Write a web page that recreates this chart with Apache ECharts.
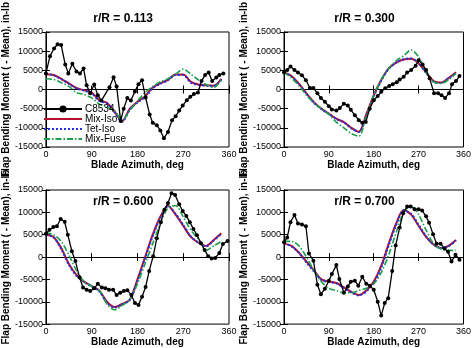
<!DOCTYPE html>
<html><head><meta charset="utf-8">
<script src="https://cdn.jsdelivr.net/npm/echarts@6/dist/echarts.min.js"></script>
<style>html,body{margin:0;padding:0;background:#fff}#c{width:474px;height:348px}</style>
</head><body><div id="c"></div>
<script>
// ---- data ----
const titles = ["r/R = 0.113", "r/R = 0.300", "r/R = 0.600", "r/R = 0.700"];
const seriesNames = ["C8534", "Mix-Iso", "Tet-Iso", "Mix-Fuse"];
const xTicks = [0, 90, 180, 270, 360];
const yTicks = [-15000, -10000, -5000, 0, 5000, 10000, 15000];
const azSim = [0,15,30,45,60,75,90,105,120,135,150,165,180,195,210,225,240,255,270,285,300,315,330,345];

// r/R = 0.113
const azExp113 = [0,8,16,23,30,38,44,52,60,67,74,80,87,95,102,109,125,133,139,147,153,160,167,175,182,189,196,204,210,218,225,232,240,248,255,262,269,277,284,291,299,306,313,320,327,335,341,349];
const exp113 = [4.2,8.7,10.7,11.8,11.6,6.5,4.2,6.7,4.7,4.2,5.5,1.1,-1.0,1.3,-1.5,-2.9,0.6,3.2,0.8,-8.2,-5.0,-2.2,-2.9,-0.5,1.4,2.4,-2.1,-6.5,-8.7,-9.3,-10.7,-12.7,-11.1,-8.0,-7.0,-5.5,-4.2,-2.8,-1.9,-1.2,-0.8,2.2,3.8,4.4,2.2,3.1,3.8,4.2];
const iso113 = [4.0,3.8,2.8,1.6,0.4,-0.2,-0.8,-2.8,-3.5,-5.8,-8.3,-5.0,-3.2,-1.8,0.5,1.6,2.5,3.9,3.9,2.0,1.3,1.1,1.0,2.8];
const tet113 = [4.1,3.7,2.7,1.5,0.3,-0.3,-1.0,-3.0,-3.6,-6.0,-8.4,-5.2,-3.4,-2.0,0.3,1.5,2.4,3.8,3.8,1.8,1.2,1.0,0.9,2.6];
const fuse113 = [2.8,2.6,1.8,0.8,-0.8,-1.3,-2.2,-3.8,-4.6,-5.5,-8.0,-5.5,-3.0,-0.8,0.8,2.0,2.8,4.0,5.3,4.0,2.5,1.3,0.5,2.5];

// r/R = 0.300
const azExp300 = [0,6.5,13,21,28,36,44,52,59,67,74,82,90,96,105,112,120,128,134,142,150,157,164,172,180,188,195,203,211,218,226,232,240,247,255,264,270,278,285,292,301,309,316,323,331,337,345,352];
const exp300 = [4.5,5.1,6.0,5.1,4.4,3.7,2.4,0.4,0.4,-1.0,-2.2,-3.2,-4.4,-5.2,-5.5,-4.8,-3.7,-4.2,-5.3,-6.7,-8.0,-8.7,-8.5,-5.0,-2.8,-1.7,-0.6,0.3,0.9,1.4,1.9,2.6,3.3,4.4,5.1,6.2,7.6,6.5,5.1,2.9,-1.0,-1.0,-1.5,-2.2,-1.0,1.4,2.2,3.5];
const iso300 = [4.5,3.5,1.5,-1.0,-3.3,-5.0,-6.3,-7.6,-8.5,-10.0,-11.0,-6.5,-1.5,2.5,5.5,7.0,7.8,8.0,6.8,4.5,2.2,1.8,3.0,4.5];
const tet300 = [4.5,3.4,1.4,-1.1,-3.5,-5.1,-6.4,-7.7,-8.6,-10.1,-11.1,-6.8,-1.8,2.3,5.4,7.0,7.9,8.1,6.9,4.3,2.0,1.7,2.9,4.4];
const fuse300 = [4.5,3.0,1.0,-1.5,-3.5,-5.0,-6.5,-8.5,-10.0,-11.5,-12.2,-7.0,-1.5,2.5,5.5,7.5,8.8,10.3,8.5,4.5,2.0,1.6,2.5,4.2];

// r/R = 0.600
const azExp600 = [0,7,14.6,21.5,29,36.8,43,51,58,66,73,80,87,95,102,110,117,124,132,139,146,153,160,168,175,182,189,196,203,211,218,226,233,240,247,254,262,269,276,283,290,297,305,312,319,326,333,341,348,357];
const exp600 = [5.2,6.1,6.7,6.9,8.5,7.9,5.0,1.3,-0.9,-4.5,-6.8,-7.3,-7.6,-7.0,-6.0,-6.8,-7.0,-7.3,-7.3,-8.5,-8.0,-7.6,-7.4,-8.5,-10.3,-10.7,-8.9,-6.7,-3.1,0.2,4.2,7.8,10.6,12.1,14.3,13.9,11.8,10.3,9.2,7.8,6.3,4.9,3.1,1.6,0.2,-0.3,-0.2,0.9,2.9,3.6];
const iso600 = [5.0,4.5,2.0,-1.5,-4.0,-5.5,-6.5,-7.5,-10.0,-11.2,-10.5,-9.5,-5.0,0.0,5.0,9.0,11.5,9.5,7.0,4.5,3.2,2.5,3.8,5.3];
const tet600 = [5.0,4.4,1.8,-1.7,-4.2,-5.6,-6.6,-7.7,-10.2,-11.3,-10.6,-9.6,-5.3,-0.3,4.7,8.8,11.4,9.7,7.2,4.6,3.2,2.4,3.7,5.2];
const fuse600 = [5.5,5.0,3.5,0.5,-3.0,-5.5,-6.5,-7.5,-10.5,-11.8,-10.8,-9.5,-6.0,-1.5,3.0,7.5,11.0,11.5,9.0,6.0,4.0,1.5,2.5,3.5];

// r/R = 0.700
const azExp700 = [0,6.5,13,21,28,36,44,50,59,67,74,82,90,96,105,111,120,128,134,142,149,157,165,172,180,188,195,202,209,217,224,232,239,247,254,262,270,277,285,291,299,306,314,322,329,336,344,352];
const exp700 = [3.3,4.4,7.8,9.4,7.5,7.3,6.9,0.8,-0.8,-6.2,-8.3,-7.1,-5.3,-3.8,-1.8,-4.9,-8.0,-6.6,-5.5,-5.3,-6.4,-4.4,-6.0,-6.4,-7.3,-10.0,-13.1,-10.3,-9.2,-3.1,2.6,6.6,9.8,11.3,11.3,10.7,10.7,10.4,9.1,7.7,5.1,3.0,3.0,1.9,1.2,-1.0,0.5,-0.6];
const iso700 = [3.0,2.5,1.0,-1.0,-3.0,-5.0,-5.5,-5.8,-6.8,-7.8,-8.5,-7.5,-5.5,-2.0,3.0,7.5,10.5,9.5,7.0,4.5,2.8,2.0,2.5,3.8];
const tet700 = [3.1,2.4,0.9,-1.2,-3.2,-5.1,-5.6,-5.9,-6.9,-7.9,-8.6,-7.7,-5.8,-2.4,2.6,7.2,10.4,9.7,7.2,4.6,2.8,2.0,2.4,3.7];
const fuse700 = [3.5,3.5,2.5,0.0,-3.0,-5.5,-7.0,-7.5,-8.0,-8.0,-7.5,-7.0,-6.0,-3.5,0.5,5.5,10.0,11.5,9.5,6.0,3.0,1.8,1.5,1.5];

// ---- build ----
const panels = [
  {az: azExp113, exp: exp113, iso: iso113, tet: tet113, fuse: fuse113},
  {az: azExp300, exp: exp300, iso: iso300, tet: tet300, fuse: fuse300},
  {az: azExp600, exp: exp600, iso: iso600, tet: tet600, fuse: fuse600},
  {az: azExp700, exp: exp700, iso: iso700, tet: tet700, fuse: fuse700}
];
const grids = [
  {left: 40, top: 7, width: 189, height: 140},
  {left: 284, top: 7, width: 183, height: 140},
  {left: 40, top: 190, width: 189, height: 139},
  {left: 284, top: 190, width: 183, height: 139}
];
const FONT = "Liberation Sans, Arial, Helvetica, sans-serif";
const zip = (xs, ys) => xs.map((x, i) => [x, ys[i] * 1000]);

const option = {
  backgroundColor: '#fff',
  animation: false,
  textStyle: {fontFamily: FONT},
  grid: grids.map(g => Object.assign({show: true, borderColor: '#000', borderWidth: 1, backgroundColor: 'transparent'}, g)),
  xAxis: [], yAxis: [], series: [], graphic: [],
  legend: {
    orient: 'vertical', left: 43, top: 104, itemGap: 0, itemWidth: 38, itemHeight: 9,
    data: seriesNames.map((n, k) => k === 0 ? {name: n} : {name: n, itemStyle: {opacity: 0}}),
    textStyle: {fontFamily: FONT, fontSize: 10, color: '#000', padding: [0,0,0,-2]},
    padding: 0
  }
};

grids.forEach((g, i) => {
  option.xAxis.push({
    gridIndex: i, type: 'value', min: xTicks[0], max: xTicks[xTicks.length - 1], interval: 90,
    position: 'bottom',
    axisLine: {show: true, lineStyle: {color: '#000'}},
    axisTick: {show: true, inside: true, length: 4, lineStyle: {color: '#000'}},
    axisLabel: {fontFamily: FONT, fontSize: 9, color: '#000', margin: 3},
    splitLine: {show: false},
    name: 'Blade Azimuth, deg', nameLocation: 'middle', nameGap: 11,
    nameTextStyle: {fontFamily: FONT, fontSize: 10, fontWeight: 'bold', color: '#000'}
  });
  option.xAxis.push({
    gridIndex: i, type: 'value', min: 0, max: 360, interval: 90, position: 'top',
    axisLine: {show: true, lineStyle: {color: '#000'}},
    axisTick: {show: true, inside: true, length: 4, lineStyle: {color: '#000'}},
    axisLabel: {show: false}, splitLine: {show: false}
  });
  option.yAxis.push({
    gridIndex: i, type: 'value', min: yTicks[0], max: yTicks[yTicks.length - 1], interval: 5000,
    position: 'left',
    axisLine: {show: true, lineStyle: {color: '#000'}},
    axisTick: {show: true, inside: true, length: 4, lineStyle: {color: '#000'}},
    axisLabel: {fontFamily: FONT, fontSize: 9, color: '#000', margin: 3, formatter: v => String(v)},
    splitLine: {show: false},
    name: 'Flap Bending Moment ( - Mean), in-lb', nameLocation: 'middle', nameGap: 30,
    nameTextStyle: {fontFamily: FONT, fontSize: 10, fontWeight: 'bold', color: '#000'}
  });
  option.yAxis.push({
    gridIndex: i, type: 'value', min: -15000, max: 15000, interval: 5000, position: 'right',
    axisLine: {show: true, lineStyle: {color: '#000'}},
    axisTick: {show: true, inside: true, length: 4, lineStyle: {color: '#000'}},
    axisLabel: {show: false}, splitLine: {show: false}
  });
  const p = panels[i];
  const ax = {xAxisIndex: 2 * i, yAxisIndex: 2 * i};
  option.series.push(Object.assign({
    name: 'Mix-Iso', type: 'line', data: zip(azSim, p.iso), smooth: 0.3, symbol: 'none',
    lineStyle: {color: '#b5122f', width: 2}, itemStyle: {color: '#b5122f'}
  }, ax));
  option.series.push(Object.assign({
    name: 'Tet-Iso', type: 'line', data: zip(azSim, p.tet), smooth: 0.3, symbol: 'none',
    lineStyle: {color: '#2233dd', width: 2, type: [2, 2]}, itemStyle: {color: '#2233dd'}
  }, ax));
  option.series.push(Object.assign({
    name: 'Mix-Fuse', type: 'line', data: zip(azSim, p.fuse), smooth: 0.3, symbol: 'none',
    lineStyle: {color: '#1a9e4e', width: 1.6, type: [6, 2, 1.5, 2]}, itemStyle: {color: '#1a9e4e'}
  }, ax));
  option.series.push(Object.assign({
    name: 'C8534', type: 'line', data: zip(p.az, p.exp), symbol: 'circle', symbolSize: 4,
    lineStyle: {color: '#000', width: 1.3}, itemStyle: {color: '#000'}, z: 5
  }, ax));
  option.graphic.push({
    type: 'text', x: g.left + g.width * 0.44, y: g.top + 12,
    style: {text: titles[i], font: 'bold 12px ' + FONT, fill: '#000', align: 'center', verticalAlign: 'middle'}
  });
});

const chart = echarts.init(document.getElementById('c'), null, {renderer: 'canvas'});
chart.setOption(option);
</script></body></html>
